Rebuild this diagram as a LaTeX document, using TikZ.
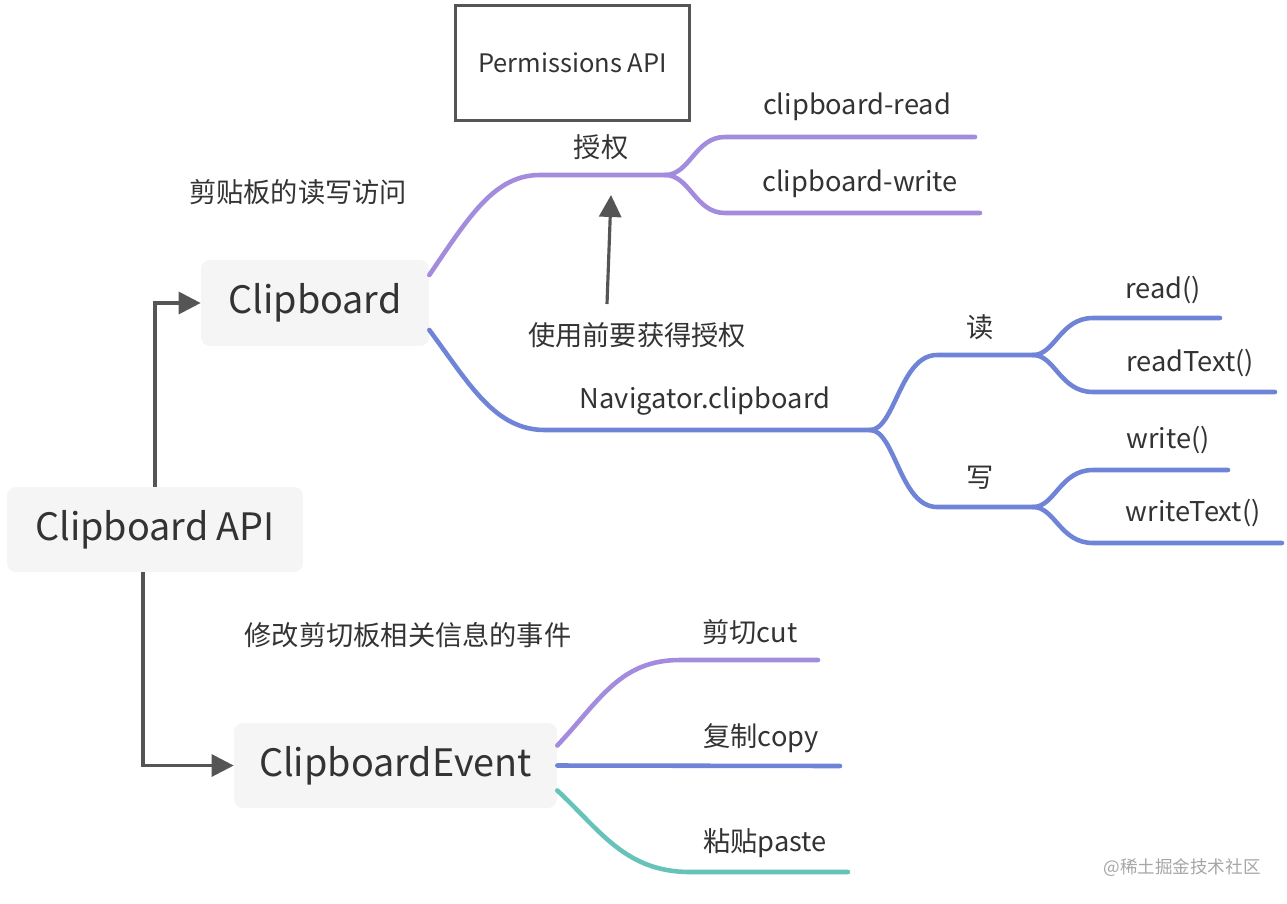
\documentclass[tikz,border=0pt]{standalone}
\usepackage{fontspec}
\setmainfont{Noto Sans CJK SC}
\usetikzlibrary{positioning,arrows.meta}

\definecolor{purpline}{HTML}{A38BDD}
\definecolor{blueline}{HTML}{6F84D6}
\definecolor{tealline}{HTML}{66C3B9}
\definecolor{arrgray}{HTML}{555555}
\definecolor{boxfill}{HTML}{F5F5F5}
\definecolor{txt}{HTML}{333333}

\begin{document}
\begin{tikzpicture}[x=0.02cm, y=-0.02cm,
    topic/.style={fill=boxfill, rounded corners=5pt, text=txt, inner sep=0pt,
      font=\fontsize{21.5}{24}\selectfont},
    lbl/.style={text=txt, inner sep=0pt, font=\fontsize{15.5}{18}\selectfont},
    conn/.style={arrgray, line width=1.8pt, -{Triangle[length=0.44cm, width=0.44cm]}},
    branch/.style={line width=2.6pt, line cap=round}]
  \useasboundingbox (0,0) rectangle (1287,903);

  % main topics
  \node (api) [topic, minimum width=5.92cm, minimum height=1.7cm] at (155,529.5) {Clipboard API};
  \node (cb) [topic, minimum width=4.56cm, minimum height=1.72cm] at (315,303) {Clipboard};
  \node (ev) [topic, minimum width=6.46cm, minimum height=1.7cm] at (395.5,765.5) {ClipboardEvent};
  \node (perm) [draw=arrgray, line width=1.7pt, text=txt, minimum width=4.7cm, minimum height=2.32cm,
    font=\fontsize{14.5}{17}\selectfont] at (572.5,63) {Permissions API};

  \draw[conn] (api.north) |- (cb.west);
  \draw[conn] ([xshift=-0.24cm]api.south) |- (ev.west);

  % floating notes
  \node (rw) [lbl] at (298,192) {剪贴板的读写访问};
  \node (evnote) [lbl] at (408,635) {修改剪切板相关信息的事件};
  \node (use) [lbl] at (637,335) {使用前要获得授权};
  \coordinate (usetip) at (611,195);
  \draw[conn] (607,304) -- (usetip);

  % Clipboard branches
  \coordinate (auth) at (665,175);
  \coordinate (nav) at (870,430);
  \coordinate (rd) at (1033,355);
  \coordinate (wr) at (1033,507);
  \draw[branch, purpline] ([yshift=0.56cm]cb.east) .. controls (470,215) and (495,175) .. (540,175) -- (auth);
  \draw[branch, purpline] (auth) .. controls (690,175) and (695,137) .. (725,137) -- (975,137);
  \draw[branch, purpline] (auth) .. controls (690,175) and (695,213) .. (725,213) -- (980,213);
  \draw[branch, blueline] ([yshift=-0.54cm]cb.east) .. controls (470,385) and (495,430) .. (545,430) -- (nav);
  \draw[branch, blueline] (nav) .. controls (895,430) and (900,355) .. (937,355) -- (rd);
  \draw[branch, blueline] (nav) .. controls (895,430) and (900,507) .. (937,507) -- (wr);
  \draw[branch, blueline] (rd) .. controls (1055,355) and (1060,318) .. (1093,318) -- (1220,318);
  \draw[branch, blueline] (rd) .. controls (1055,355) and (1060,392) .. (1093,392) -- (1275,392);
  \draw[branch, blueline] (wr) .. controls (1055,507) and (1060,470) .. (1093,470) -- (1228,470);
  \draw[branch, blueline] (wr) .. controls (1055,507) and (1060,543) .. (1093,543) -- (1282,543);

  \node (authl) [lbl] at (601,147) {授权};
  \node (cbread) [lbl] at (857,107) {clipboard-read};
  \node (cbwrite) [lbl] at (860,184) {clipboard-write};
  \node (navl) [lbl] at (705,401) {Navigator.clipboard};
  \node (rdl) [lbl] at (980,327) {读};
  \node (wrl) [lbl] at (980,478) {写};
  \node (readl) [lbl] at (1163,290) {read()};
  \node (readtl) [lbl] at (1190,363) {readText()};
  \node (writel) [lbl] at (1168,440) {write()};
  \node (writetl) [lbl] at (1193,513) {writeText()};

  % ClipboardEvent branches
  \draw[branch, purpline] ([yshift=0.4cm]ev.east) .. controls (600,700) and (620,660) .. (680,660) -- (818,660);
  \draw[branch, blueline] (ev.east) -- (840,766);
  \draw[branch, tealline] ([yshift=-0.5cm]ev.east) .. controls (600,830) and (625,872) .. (690,872) -- (848,872);
  \node (cut) [lbl] at (750,632) {剪切cut};
  \node (copy) [lbl] at (761,738) {复制copy};
  \node (paste) [lbl] at (765,843) {粘贴paste};

  \node (mark) [text=black!35, inner sep=0pt, font=\fontsize{10}{12}\selectfont] at (1182,868) {@稀土掘金技术社区};
\end{tikzpicture}
\end{document}
